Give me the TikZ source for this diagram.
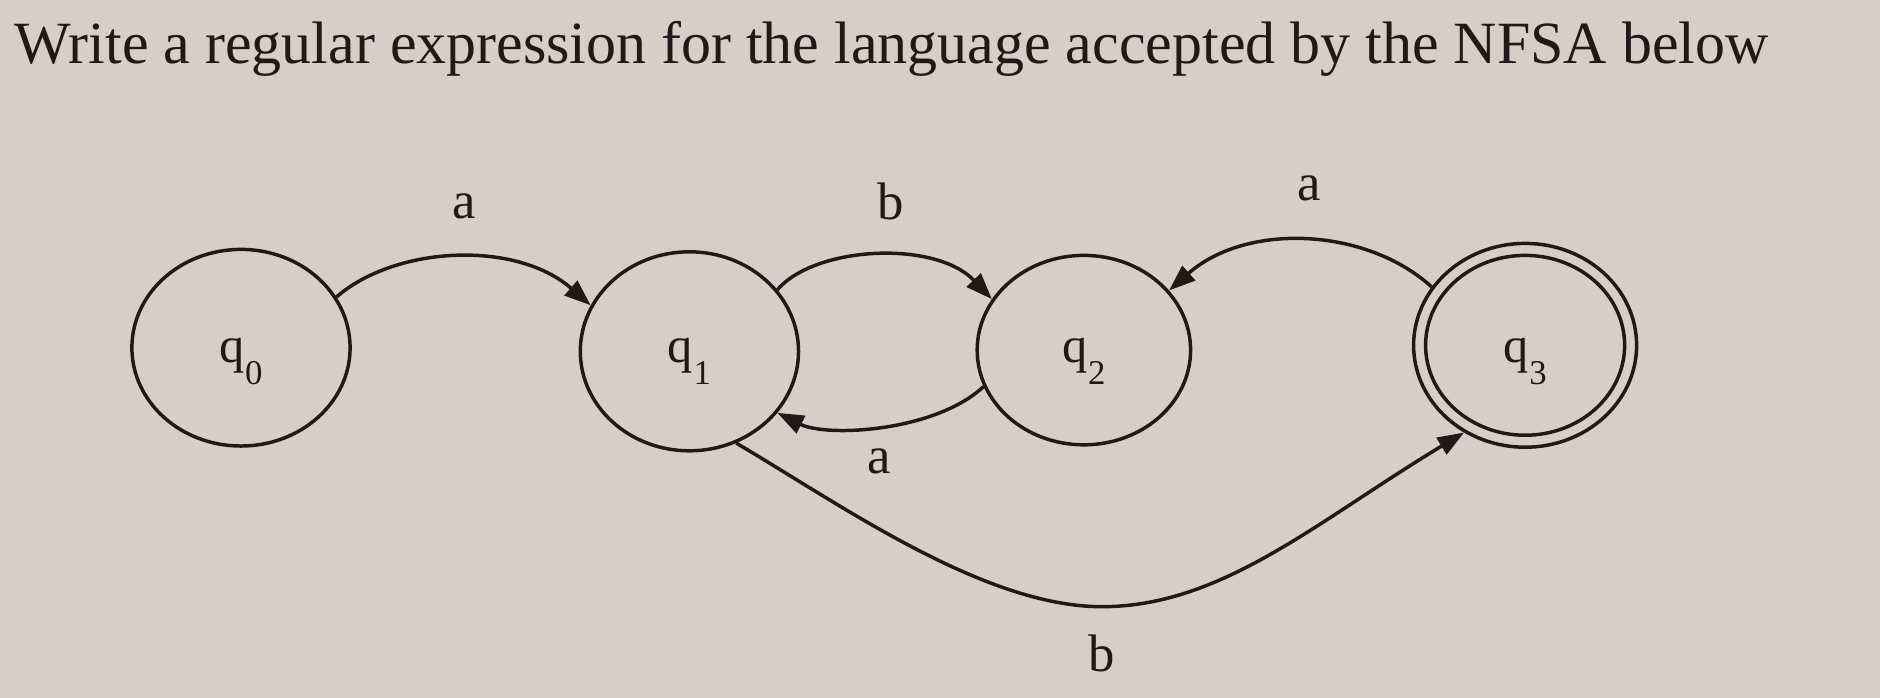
\documentclass[tikz,border=0pt]{standalone}
\usepackage{fontspec}
\setmainfont{Liberation Serif}
\usetikzlibrary{arrows.meta,shapes.geometric}
\definecolor{paper}{RGB}{214,207,200}
\definecolor{ink}{RGB}{32,25,24}
\newcommand\stlab[1]{q\kern0.5pt\raisebox{-19pt}{\fontsize{29}{29}\selectfont #1}}
\begin{document}
\begin{tikzpicture}[x=1pt,y=-1pt,
  state/.style={ellipse,draw=ink,line width=2.9pt,inner sep=0pt},
  qlab/.style={anchor=base,text=ink,font=\fontsize{42}{42}\selectfont},
  elab/.style={anchor=base,text=ink,font=\fontsize{44}{44}\selectfont},
  edge/.style={draw=ink,line width=2.9pt,-{Triangle[length=22pt,width=16pt]}}]
\fill[paper] (0,0) rectangle (1568,582);
\useasboundingbox (0,0) rectangle (1568,582);
% title
\node[anchor=base west,text=ink,inner sep=0pt,font=\fontsize{50}{50}\selectfont] (title) at (12,53)
  {Write a regular expression for the language accepted by the NFSA below};
% states
\node[state,minimum width=182pt,minimum height=164pt] (q0) at (201,290) {};
\node[state,minimum width=182pt,minimum height=166pt] (q1) at (575,293) {};
\node[state,minimum width=178pt,minimum height=158pt] (q2) at (904,292) {};
\node[state,minimum width=186pt,minimum height=170pt] (q3) at (1272,288) {};
\node[state,minimum width=166pt,minimum height=150pt] (q3in) at (q3.center) {};
% state labels
\node[qlab] (q0l) at (201,302) {\stlab{0}};
\node[qlab] (q1l) at (575,302) {\stlab{1}};
\node[qlab] (q2l) at (904,302) {\stlab{2}};
\node[qlab] (q3l) at (1272,302) {\stlab{3}};
% edges
\draw[edge] (q0.28) .. controls (330,205) and (430,200) .. (q1.155);
\draw[edge] (q1.35) .. controls (680,205) and (780,200) .. (q2.151);
\draw[edge] (q2.-160) .. controls (780,360) and (690,365) .. (q1.-35);
\draw[edge] (q3.148) .. controls (1140,190) and (1040,185) .. (q2.35);
\coordinate (bot) at (919,506);
\draw[edge] (q1.-63) .. controls (700,420) and (820,506) .. (bot)
  .. controls (1019,506) and (1098,435) .. (q3.-125);
% edge labels
\node[elab] (l01) at (387,182) {a};
\node[elab] (l12) at (743,183) {b};
\node[elab] (l32) at (1092,167) {a};
\node[elab] (l21) at (733,395) {a};
\node[elab] (l13) at (919,560) {b};
\end{tikzpicture}
\end{document}
